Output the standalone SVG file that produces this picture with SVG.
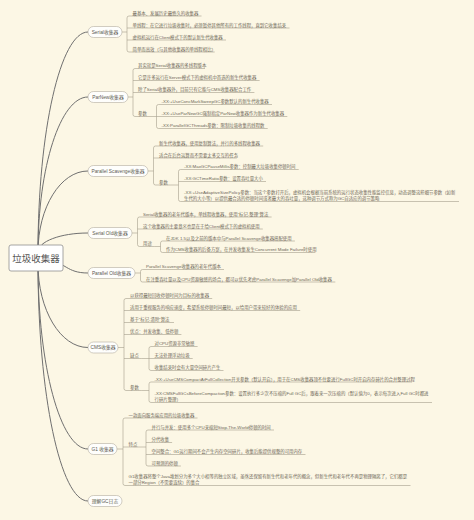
<svg xmlns="http://www.w3.org/2000/svg" width="474" height="520" viewBox="0 0 474 520">
<style>
.t{font-family:"Liberation Sans","Noto Sans CJK SC",sans-serif;font-size:4.4px;fill:#6e6758}
.nt{font-family:"Liberation Sans","Noto Sans CJK SC",sans-serif;font-size:4.8px;fill:#5d5a52;text-anchor:middle}
.rt{font-family:"Liberation Sans","Noto Sans CJK SC",sans-serif;font-size:9.5px;fill:#555;text-anchor:middle}
.pill{fill:#fefefc;stroke:#b3ad9f;stroke-width:.6}
.rbox{fill:#fff;stroke:#8f8f8f;stroke-width:.8}
.ul{stroke:#a59e8c;stroke-width:.6}
.br{fill:none;stroke:#a59e8c;stroke-width:.6}
.main{fill:none;stroke:#707070;stroke-width:1}
</style>
<rect width="474" height="520" fill="#fcf7e5"/>
<g id="connectors">
<path class="main" d="M38 252C38 131 60.5 32 88 32"/>
<path class="main" d="M38 252C38 166.75 60.5 97 88 97"/>
<path class="main" d="M38 252C38 207.5 60.5 171 88 171"/>
<path class="main" d="M38 252C38 241.5 60.5 233 88 233"/>
<path class="main" d="M50 262C66 262 66 273 88 273"/>
<path class="main" d="M38 264C38 310 60.5 347.5 88 347.5"/>
<path class="main" d="M38 264C38 365.8 60.5 449 88 449"/>
<path class="main" d="M38 264C38 394.4 60.5 501 88 501"/>
<path class="br" d="M122 32H127M129 16Q127 16 127 18V50Q127 52 129 52"/>
<path class="br" d="M128 97H133M135 68.5Q133 68.5 133 70.5V114.5Q133 116.5 135 116.5"/>
<path class="br" d="M150 116.5H156.5M158.5 104.5Q156.5 104.5 156.5 106.5V126.5Q156.5 128.5 158.5 128.5"/>
<path class="br" d="M148 171H153.5M155.5 146Q153.5 146 153.5 148V183Q153.5 185 155.5 185"/>
<path class="br" d="M170.8 185H178.5M180.5 169.5Q178.5 169.5 178.5 171.5V199.5Q178.5 201.5 180.5 201.5"/>
<path class="br" d="M132 233H137.5M139.5 217Q137.5 217 137.5 219V244.5Q137.5 246.5 139.5 246.5"/>
<path class="br" d="M154.8 246.5H160.5M162.5 241Q160.5 241 160.5 243V250.5Q160.5 252.5 162.5 252.5"/>
<path class="br" d="M135 273H140.5M142.5 269.5Q140.5 269.5 140.5 271.5V280Q140.5 282 142.5 282"/>
<path class="br" d="M118 347.5H124M126 298.5Q124 298.5 124 300.5V388.5Q124 390.5 126 390.5"/>
<path class="br" d="M141.8 358.5H149M151 346.5Q149 346.5 149 348.5V368.5Q149 370.5 151 370.5"/>
<path class="br" d="M141.8 390.5H149M151 382Q149 382 149 384V400.5Q149 402.5 151 402.5"/>
<path class="br" d="M117 449H123M125 418Q123 418 123 420V483.5Q123 485.5 125 485.5"/>
<path class="br" d="M140.3 447H146M148 430Q146 430 146 432V464Q146 466 148 466"/>
</g>
<g id="root">
<rect class="rbox" x="9" y="245" width="54" height="26" rx="2"/>
<text class="rt" x="36" y="261.5">垃圾收集器</text>
</g>
<g id="serial">
<rect class="pill" x="88" y="26.5" width="34" height="11" rx="5.5"/>
<text class="nt" x="105" y="33.7">Serial收集器</text>
<line class="ul" x1="129" y1="16" x2="201.5" y2="16"/><text class="t" x="132.5" y="14.7">最基本、发展历史最悠久的收集器</text>
<line class="ul" x1="127" y1="28" x2="289.5" y2="28"/><text class="t" x="132.5" y="26.7">单线程：在它进行垃圾收集时，必须暂停其他所有的工作线程，直到它收集结束</text>
<line class="ul" x1="127" y1="40" x2="226" y2="40"/><text class="t" x="132.5" y="38.7">虚拟机运行在Client模式下的默认新生代收集器</text>
<line class="ul" x1="129" y1="52" x2="214.7" y2="52"/><text class="t" x="132.5" y="50.7">简单而高效（与其他收集器的单线程相比）</text>
</g>
<g id="parnew">
<rect class="pill" x="88" y="91.5" width="40" height="11" rx="5.5"/>
<text class="nt" x="108" y="98.7">ParNew收集器</text>
<line class="ul" x1="135" y1="68.5" x2="205" y2="68.5"/><text class="t" x="138" y="67.2">其实就是Serial收集器的多线程版本</text>
<line class="ul" x1="133" y1="80.5" x2="259.6" y2="80.5"/><text class="t" x="138" y="79.2">它是许多运行在Server模式下的虚拟机中首选的新生代收集器</text>
<line class="ul" x1="133" y1="92.5" x2="254.4" y2="92.5"/><text class="t" x="138" y="91.2">除了Serial收集器外，目前只有它能与CMS收集器配合工作</text>
<line class="ul" x1="135" y1="116.5" x2="150" y2="116.5"/><text class="t" x="138" y="115.2">参数</text>
<line class="ul" x1="158.5" y1="104.5" x2="272" y2="104.5"/><text class="t" x="161.5" y="103.2">-XX:+UseConcMarkSweepGC参数默认的新生代收集器</text>
<line class="ul" x1="156.5" y1="116.5" x2="287.3" y2="116.5"/><text class="t" x="161.5" y="115.2">-XX:+UseParNewGC强制指定ParNew收集器作为新生代收集器</text>
<line class="ul" x1="158.5" y1="128.5" x2="267.7" y2="128.5"/><text class="t" x="161.5" y="127.2">-XX:ParallelGCThreads参数：限制垃圾收集的线程数</text>
</g>
<g id="parallel-scavenge">
<rect class="pill" x="88" y="165.5" width="60" height="11" rx="5.5"/>
<text class="nt" x="118" y="172.7">Parallel Scavenge收集器</text>
<line class="ul" x1="155.5" y1="146" x2="263.2" y2="146"/><text class="t" x="159" y="144.7">新生代收集器，使用复制算法，并行的多线程收集器</text>
<line class="ul" x1="153.5" y1="158" x2="236.8" y2="158"/><text class="t" x="159" y="156.7">适合在后台运算而不需要太多交互的任务</text>
<line class="ul" x1="155.5" y1="185" x2="170.8" y2="185"/><text class="t" x="159" y="183.7">参数</text>
<line class="ul" x1="180.5" y1="169.5" x2="298.7" y2="169.5"/><text class="t" x="184" y="168.2">-XX:MaxGCPauseMillis参数：控制最大垃圾收集停顿时间</text>
<line class="ul" x1="178.5" y1="181.5" x2="266" y2="181.5"/><text class="t" x="184" y="180.2">-XX:GCTimeRatio参数：设置吞吐量大小</text>
<line class="ul" x1="180.5" y1="201.5" x2="459" y2="201.5"/><text class="t" x="184" y="193.9">-XX:+UseAdaptiveSizePolicy参数：当这个参数打开后，虚拟机会根据当前系统的运行状态收集性能监控信息，动态调整这些细节参数（如新</text><text class="t" x="184" y="200.2">生代的大小等）以提供最合适的停顿时间或者最大的吞吐量，这种调节方式称为GC自适应的调节策略</text>
</g>
<g id="serial-old">
<rect class="pill" x="88" y="227.5" width="44" height="11" rx="5.5"/>
<text class="nt" x="110" y="234.7">Serial Old收集器</text>
<line class="ul" x1="139.5" y1="217" x2="271.6" y2="217"/><text class="t" x="143" y="215.7">Serial收集器的老年代版本，单线程收集器，使用“标记-整理”算法</text>
<line class="ul" x1="137.5" y1="229" x2="262.8" y2="229"/><text class="t" x="143" y="227.7">这个收集器的主要意义也是在于给Client模式下的虚拟机使用</text>
<line class="ul" x1="139.5" y1="246.5" x2="154.8" y2="246.5"/><text class="t" x="143" y="245.2">用途</text>
<line class="ul" x1="162.5" y1="241" x2="294.9" y2="241"/><text class="t" x="166" y="239.7">在JDK 1.5以及之前的版本中与Parallel Scavenge收集器搭配使用</text>
<line class="ul" x1="162.5" y1="252.5" x2="315.4" y2="252.5"/><text class="t" x="166" y="251.2">作为CMS收集器的后备方案，在并发收集发生Concurrent Mode Failure时使用</text>
</g>
<g id="parallel-old">
<rect class="pill" x="88" y="267.5" width="47" height="11" rx="5.5"/>
<text class="nt" x="111.5" y="274.7">Parallel Old收集器</text>
<line class="ul" x1="142.5" y1="269.5" x2="224" y2="269.5"/><text class="t" x="146" y="268.2">Parallel Scavenge收集器的老年代版本</text>
<line class="ul" x1="142.5" y1="282" x2="335.3" y2="282"/><text class="t" x="146" y="280.7">在注重吞吐量以及CPU资源敏感的场合，都可以优先考虑Parallel Scavenge加Parallel Old收集器</text>
</g>
<g id="cms">
<rect class="pill" x="88" y="342" width="30" height="11" rx="5.5"/>
<text class="nt" x="103" y="349.2">CMS收集器</text>
<line class="ul" x1="126" y1="298.5" x2="212.2" y2="298.5"/><text class="t" x="130" y="297.2">以获得最短回收停顿时间为目标的收集器</text>
<line class="ul" x1="124" y1="310.5" x2="300.2" y2="310.5"/><text class="t" x="130" y="309.2">适用于重视服务的响应速度，希望系统停顿时间最短，以给用户带来较好的体验的应用</text>
<line class="ul" x1="124" y1="322.5" x2="174" y2="322.5"/><text class="t" x="130" y="321.2">基于“标记-清除”算法</text>
<line class="ul" x1="124" y1="334.5" x2="181.4" y2="334.5"/><text class="t" x="130" y="333.2">优点：并发收集、低停顿</text>
<line class="ul" x1="124" y1="358.5" x2="141.8" y2="358.5"/><text class="t" x="130" y="357.2">缺点</text>
<line class="ul" x1="151" y1="346.5" x2="197.6" y2="346.5"/><text class="t" x="154.5" y="345.2">对CPU资源非常敏感</text>
<line class="ul" x1="149" y1="358.5" x2="192.7" y2="358.5"/><text class="t" x="154.5" y="357.2">无法处理浮动垃圾</text>
<line class="ul" x1="151" y1="370.5" x2="223.5" y2="370.5"/><text class="t" x="154.5" y="369.2">收集结束时会有大量空间碎片产生</text>
<line class="ul" x1="126" y1="390.5" x2="141.8" y2="390.5"/><text class="t" x="130" y="389.2">参数</text>
<line class="ul" x1="151" y1="382" x2="411.9" y2="382"/><text class="t" x="154.5" y="380.7">-XX:+UseCMSCompactAtFullCollection开关参数（默认开启），用于在CMS收集器顶不住要进行FullGC时开启内存碎片的合并整理过程</text>
<line class="ul" x1="151" y1="402.5" x2="432" y2="402.5"/><text class="t" x="154.5" y="394.9">-XX:CMSFullGCsBeforeCompaction参数：设置执行多少次不压缩的Full GC后，跟着来一次压缩的（默认值为0，表示每次进入Full GC时都进</text><text class="t" x="154.5" y="401.2">行碎片整理）</text>
</g>
<g id="g1">
<rect class="pill" x="88" y="443.5" width="29" height="11" rx="5.5"/>
<text class="nt" x="102.5" y="450.7">G1 收集器</text>
<line class="ul" x1="125" y1="418" x2="197.5" y2="418"/><text class="t" x="128.5" y="416.7">一款面向服务端应用的垃圾收集器</text>
<line class="ul" x1="123" y1="447" x2="140.3" y2="447"/><text class="t" x="128.5" y="445.7">特点</text>
<line class="ul" x1="148" y1="430" x2="274" y2="430"/><text class="t" x="151.5" y="428.7">并行与并发：使用多个CPU来缩短Stop-The-World停顿的时间</text>
<line class="ul" x1="146" y1="442.5" x2="172.1" y2="442.5"/><text class="t" x="151.5" y="441.2">分代收集</text>
<line class="ul" x1="146" y1="454.5" x2="305.5" y2="454.5"/><text class="t" x="151.5" y="453.2">空间整合：G1运行期间不会产生内存空间碎片，收集后能提供规整的可用内存</text>
<line class="ul" x1="148" y1="466" x2="180.9" y2="466"/><text class="t" x="151.5" y="464.7">可预测的停顿</text>
<line class="ul" x1="125" y1="485.5" x2="410.5" y2="485.5"/><text class="t" x="128.5" y="477.9">G1收集器将整个Java堆划分为多个大小相等的独立区域，虽然还保留有新生代和老年代的概念，但新生代和老年代不再是物理隔离了，它们都是</text><text class="t" x="128.5" y="484.2">一部分Region（不需要连续）的集合</text>
</g>
<g id="gc-log">
<rect class="pill" x="88" y="495.5" width="34" height="11" rx="5.5"/>
<text class="nt" x="105" y="502.7">理解GC日志</text>
</g>
</svg>
